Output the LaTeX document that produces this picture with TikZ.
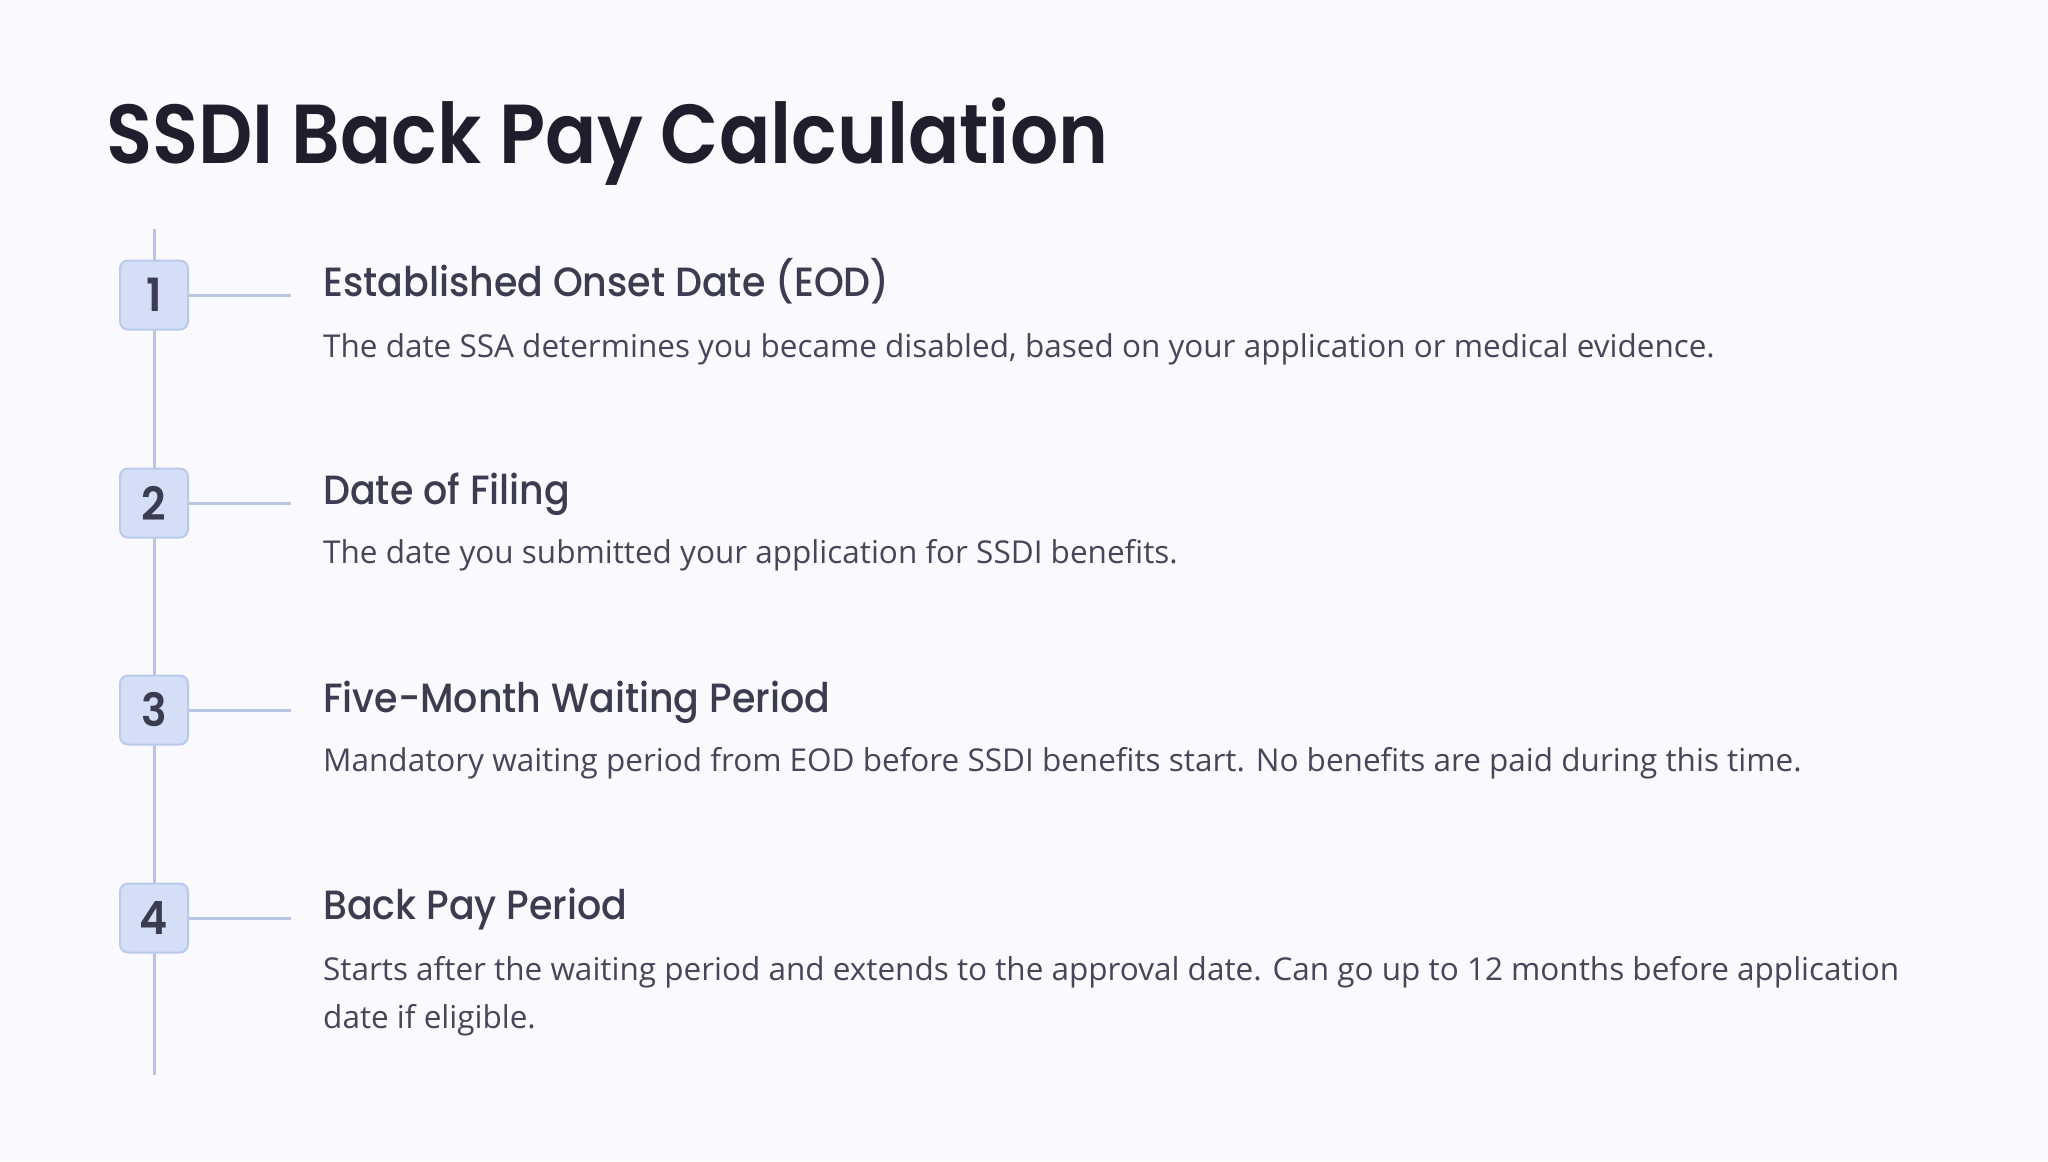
\documentclass[tikz,border=0pt]{standalone}
\usepackage{fontspec}
\setmainfont{Open Sans}
\newfontfamily\headfont{Poppins}[UprightFont={* Medium},FakeStretch=0.93]
\newfontfamily\titlefont{Poppins}[UprightFont={* SemiBold},FakeStretch=0.905]
\newfontfamily\numfont{Poppins}[UprightFont={* SemiBold},FakeStretch=0.93]
\definecolor{bg}{HTML}{F9F9FE}
\definecolor{titlec}{HTML}{1E1E2C}
\definecolor{headc}{HTML}{3B3C50}
\definecolor{bodyc}{HTML}{45465A}
\definecolor{boxfill}{HTML}{D4DFF7}
\definecolor{boxline}{HTML}{BACAEA}
\definecolor{linec}{HTML}{B9C6E1}
\tikzset{
  numbox/.style={draw=boxline, line width=2bp, fill=boxfill, rounded corners=8bp,
    minimum width=68bp, minimum height=69bp, inner sep=0pt,
    font=\numfont\fontsize{46}{46}\selectfont, text=headc},
  spine/.style={draw=linec, line width=3bp},
  heading/.style={anchor=base west, inner sep=0pt, text=headc,
    font=\headfont\fontsize{41}{41}\selectfont},
  body/.style={anchor=base west, inner sep=0pt, text=bodyc,
    font=\fontsize{31.6}{48}\selectfont},
}
\begin{document}
\begin{tikzpicture}[x=1bp,y=-1bp]
\fill[bg] (0,0) rectangle (2048,1161);
\useasboundingbox (0,0) rectangle (2048,1161);
\node[anchor=base west, inner sep=0pt, text=titlec, font=\titlefont\fontsize{84}{84}\selectfont]
  (title) at (106,163) {SSDI Back Pay Calculation};
\coordinate (top) at (154,229);
\coordinate (bot) at (154,1075);
\draw[spine] (top) -- (bot);
\node[numbox] (b1) at (154,295) {1};
\node[numbox] (b2) at (154,503) {2};
\node[numbox] (b3) at (154,710) {3};
\node[numbox] (b4) at (154,918) {4};
\coordinate (c1) at (291,295);
\coordinate (c2) at (291,503);
\coordinate (c3) at (291,710);
\coordinate (c4) at (291,918);
\foreach \i in {1,2,3,4} \draw[spine] (b\i.east) -- (c\i);
\node[heading] (h1) at (323,296) {Established Onset Date (EOD)};
\node[body] (d1) at (323,357) {The date SSA determines you became disabled, based on your application or medical evidence.};
\node[heading] (h2) at (323,504) {Date of Filing};
\node[body] (d2) at (323,563) {The date you submitted your application for SSDI benefits.};
\node[heading] (h3) at (323,712) {Five-Month Waiting Period};
\node[body] (d3) at (323,771) {Mandatory waiting period from EOD before SSDI benefits start. No benefits are paid during this time.};
\node[heading] (h4) at (323,919) {Back Pay Period};
\node[body] (d4) at (323,980) {Starts after the waiting period and extends to the approval date. Can go up to 12 months before application};
\node[body] (d4b) at (323,1028) {date if eligible.};
\end{tikzpicture}
\end{document}
